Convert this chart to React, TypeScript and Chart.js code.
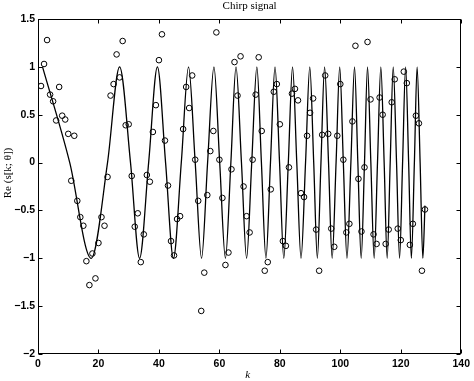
import React, { useEffect, useRef } from 'react';
import { Chart, registerables } from 'chart.js';

Chart.register(...registerables);

// noisy samples, k = 1..128
const sampleValues = [
  0.80, 1.03, 1.28, 0.71, 0.64, 0.44, 0.79, 0.49, 0.45, 0.30,
  -0.19, 0.28, -0.40, -0.57, -0.66, -1.03, -1.28, -0.95, -1.21, -0.84,
  -0.57, -0.66, -0.15, 0.70, 0.82, 1.13, 0.89, 1.27, 0.39, 0.40,
  -0.14, -0.67, -0.53, -1.04, -0.75, -0.13, -0.20, 0.32, 0.60, 1.07,
  1.34, 0.23, -0.24, -0.82, -0.97, -0.59, -0.56, 0.35, 0.79, 0.57,
  0.91, 0.03, -0.40, -1.55, -1.15, -0.34, 0.12, 0.33, 1.36, 0.03,
  -0.37, -1.07, -0.94, -0.07, 1.05, 0.70, 1.11, -0.25, -0.56, -0.73,
  0.03, 0.71, 1.10, 0.33, -1.13, -1.04, -0.28, 0.74, 0.82, 0.40,
  -0.82, -0.87, -0.05, 0.72, 0.77, 0.65, -0.32, -0.36, 0.28, 0.52,
  0.67, -0.70, -1.13, 0.29, 0.91, 0.30, -0.69, -0.88, 0.28, 0.82,
  0.03, -0.73, -0.64, 0.43, 1.22, -0.17, -0.72, -0.05, 1.26, 0.66,
  -0.75, -0.85, 0.68, 0.50, -0.85, -0.70, 0.63, 0.87, -0.69, -0.81,
  0.95, 0.83, -0.86, -0.64, 0.49, 0.41, -1.13, -0.49,
];

// chirp curve: read extrema and zero crossings
const curveK = [
  1.5, 10.5, 17.6, 23.0, 27.0, 30.6, 33.6, 36.6, 39.5, 42.2,
  44.8, 47.4, 49.8, 52.0, 54.1, 56.1, 58.2, 60.1, 62.0, 63.8,
  65.5, 67.3, 69.0, 70.7, 72.4, 73.9, 75.4, 76.9, 78.4, 79.9,
  81.3, 82.8, 84.2, 85.6, 87.0, 88.5, 89.9, 91.2, 92.4, 93.6,
  94.8, 96.1, 97.3, 98.6, 99.8, 101.0, 102.2, 103.5, 104.7, 105.8,
  106.9, 108.0, 109.0, 110.1, 111.2, 112.3, 113.4, 114.5, 115.5, 116.5,
  117.5, 118.6, 119.6, 120.6, 121.6, 122.6, 123.5, 124.5, 125.4, 126.4,
  127.3, 128.0,
];
const curveValues = [
  1, 0, -1, 0, 1, 0, -1, 0, 1, 0,
  -1, 0, 1, 0, -1, 0, 1, 0, -1, 0,
  1, 0, -1, 0, 1, 0, -1, 0, 1, 0,
  -1, 0, 1, 0, -1, 0, 1, 0, -1, 0,
  1, 0, -1, 0, 1, 0, -1, 0, 1, 0,
  -1, 0, 1, 0, -1, 0, 1, 0, -1, 0,
  1, 0, -1, 0, 1, 0, -1, 0, 1, 0,
  -1, -0.45,
];

const xTicks = [0, 20, 40, 60, 80, 100, 120, 140];
const yTicks = [-2, -1.5, -1, -0.5, 0, 0.5, 1, 1.5];
const titleText = 'Chirp signal';
const xLabel = 'k';
const yLabel = 'Re (s[k; \u03b8])';

export default function App() {
  const ref = useRef<HTMLCanvasElement>(null);

  useEffect(() => {
    const samples = sampleValues.map((v, i) => ({ x: i + 1, y: v }));
    const curve = curveK.map((k, i) => ({ x: k, y: curveValues[i] }));

    const frame = {
      id: 'frame',
      afterDraw(chart: any) {
        const ctx = chart.ctx;
        const a = chart.chartArea;
        const xs = chart.scales.x;
        const ys = chart.scales.y;
        ctx.save();
        ctx.strokeStyle = '#000';
        ctx.lineWidth = 1;
        const L = Math.round(a.left) + 0.5;
        const R = Math.round(a.right) - 0.5;
        const T = Math.round(a.top) + 0.5;
        const B = Math.round(a.bottom) - 0.5;
        ctx.strokeRect(L, T, R - L, B - T);
        const tl = 4;
        ctx.beginPath();
        xTicks.forEach((v) => {
          const p = Math.round(xs.getPixelForValue(v)) + 0.5;
          ctx.moveTo(p, B);
          ctx.lineTo(p, B - tl);
          ctx.moveTo(p, T);
          ctx.lineTo(p, T + tl);
        });
        yTicks.forEach((v) => {
          const p = Math.round(ys.getPixelForValue(v)) + 0.5;
          ctx.moveTo(L, p);
          ctx.lineTo(L + tl, p);
          ctx.moveTo(R, p);
          ctx.lineTo(R - tl, p);
        });
        ctx.stroke();

        ctx.fillStyle = '#000';
        ctx.textAlign = 'center';
        ctx.textBaseline = 'middle';
        ctx.font = '11px "Liberation Serif", serif';
        ctx.fillText(titleText, (a.left + a.right) / 2, 6);

        ctx.font = 'italic 11px "Liberation Serif", serif';
        ctx.fillText(xLabel, (a.left + a.right) / 2 - 2, 375);

        ctx.save();
        ctx.translate(8, 173);
        ctx.rotate(-Math.PI / 2);
        ctx.font = '11px "Liberation Serif", serif';
        ctx.fillText(yLabel, 0, 0);
        ctx.restore();
        ctx.restore();
      },
    };

    const chart = new Chart(ref.current as HTMLCanvasElement, {
      type: 'scatter',
      data: {
        datasets: [
          {
            data: curve,
            showLine: true,
            borderColor: '#000',
            borderWidth: 1.3,
            pointRadius: 0,
            cubicInterpolationMode: 'monotone',
            order: 2,
          } as any,
          {
            data: samples,
            showLine: false,
            pointRadius: 2.8,
            pointBorderWidth: 1,
            borderColor: '#000',
            backgroundColor: 'rgba(0,0,0,0)',
            order: 1,
          },
        ],
      },
      plugins: [frame],
      options: {
        responsive: false,
        animation: false,
        events: [],
        layout: { padding: { top: 19, right: 10, left: 0, bottom: 0 } },
        plugins: { legend: { display: false }, tooltip: { enabled: false }, title: { display: false } },
        scales: {
          x: {
            type: 'linear',
            min: 0,
            max: 140,
            afterBuildTicks: (s: any) => { s.ticks = xTicks.map((v) => ({ value: v })); },
            afterFit: (s: any) => { s.height = 27; },
            grid: { display: false, drawTicks: false },
            border: { display: false },
            ticks: {
              padding: 4,
              color: '#000',
              maxRotation: 0,
              font: { family: '"Liberation Sans", Arial, sans-serif', size: 10.5, weight: 'bold' },
            },
          },
          y: {
            type: 'linear',
            min: -2,
            max: 1.5,
            afterBuildTicks: (s: any) => { s.ticks = yTicks.map((v) => ({ value: v })); },
            afterFit: (s: any) => { s.width = 38; },
            grid: { display: false, drawTicks: false },
            border: { display: false },
            ticks: {
              padding: 3,
              color: '#000',
              callback: (v: any) => (Number(v) < 0 ? '\u2212' + String(Math.abs(Number(v))) : String(v)),
              font: { family: '"Liberation Sans", Arial, sans-serif', size: 10.5, weight: 'bold' },
            },
          },
        },
      },
    } as any);
    return () => chart.destroy();
  }, []);

  return (
    <div style={{ position: 'fixed', left: 0, top: 0, width: 474, height: 381, background: '#fff' }}>
      <canvas ref={ref} width={474} height={381} style={{ width: 474, height: 381, display: 'block' }} />
    </div>
  );
}
